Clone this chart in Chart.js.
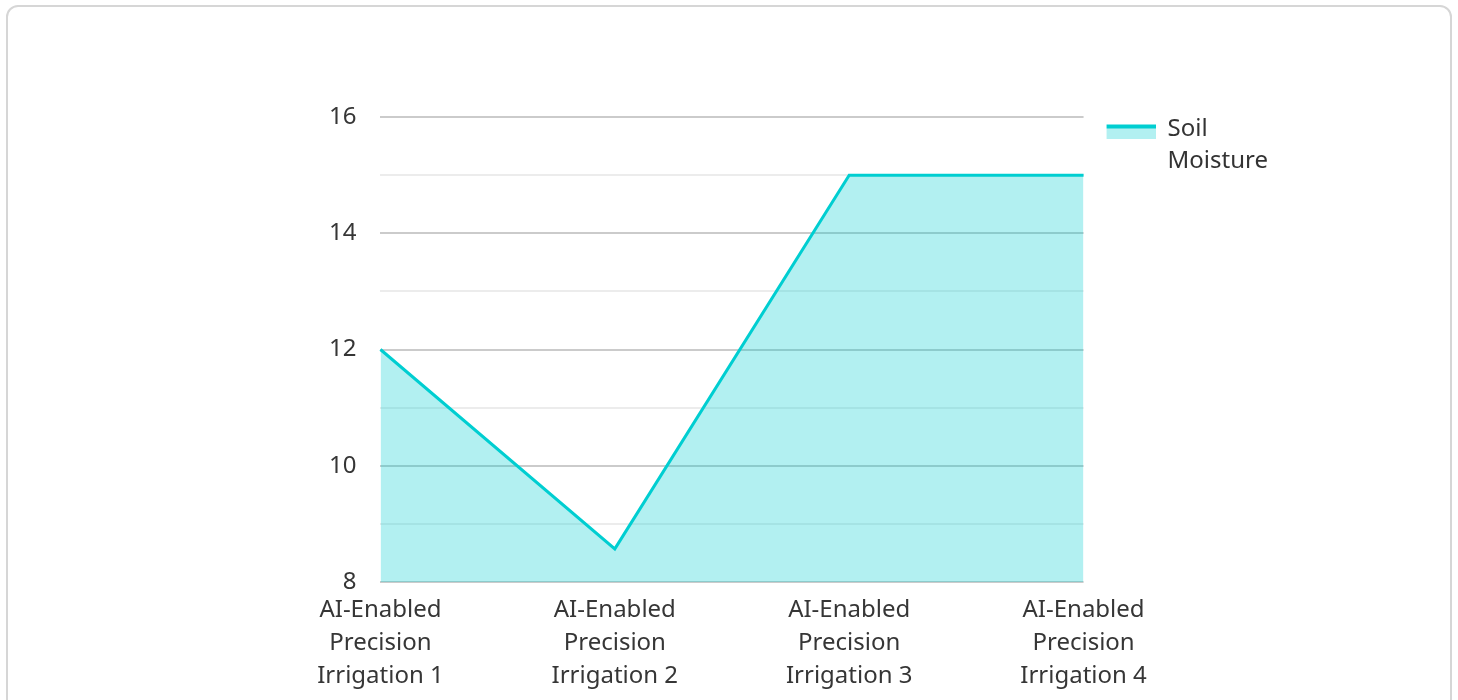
<!DOCTYPE html>
<html>
<head>
<meta charset="utf-8">
<script src="https://cdn.jsdelivr.net/npm/chart.js@4.4.0/dist/chart.umd.min.js"></script>
<style>
  html, body { margin: 0; padding: 0; background: #fff; overflow: hidden; }
  #card {
    position: absolute; left: 6px; top: 5px;
    width: 1446px; height: 760px;
    border: 2px solid #d6d6d6; border-radius: 12px;
    box-sizing: border-box; background: #fff;
  }
  #wrap { position: relative; width: 1442px; height: 720px; }
</style>
</head>
<body>
<div id="card"><div id="wrap"><canvas id="chart"></canvas></div></div>
<script>
// Datos del gráfico
const categories = [
  ['AI-Enabled', 'Precision', 'Irrigation 1'],
  ['AI-Enabled', 'Precision', 'Irrigation 2'],
  ['AI-Enabled', 'Precision', 'Irrigation 3'],
  ['AI-Enabled', 'Precision', 'Irrigation 4']
];
const soilMoisture = [12, 8.57, 15, 15];
const seriesLabel = ['Soil', 'Moisture'];
const yMin = 8;
const yMax = 16;

const lineColor = 'rgb(0, 206, 209)';
const fillColor = 'rgba(0, 206, 209, 0.3)';

// Icono de la leyenda: margen transparente a la izquierda y arriba,
// luego banda de relleno con línea superior.
function legendIcon() {
  const c = document.createElement('canvas');
  c.width = 72;
  c.height = 19;
  const g = c.getContext('2d');
  g.fillStyle = fillColor;
  g.fillRect(23, 5, 49, 14);
  g.fillStyle = lineColor;
  g.fillRect(23, 5, 49, 4);
  return c;
}

Chart.defaults.font.family = '"Noto Sans", "Open Sans", sans-serif';
Chart.defaults.font.size = 24;
Chart.defaults.color = '#363636';

const ctx = document.getElementById('chart').getContext('2d');
const chart = new Chart(ctx, {
  type: 'line',
  data: {
    labels: categories,
    datasets: [{
      label: seriesLabel,
      data: soilMoisture,
      borderColor: lineColor,
      backgroundColor: fillColor,
      borderWidth: 3,
      fill: 'start',
      tension: 0,
      pointRadius: 0,
      pointStyle: legendIcon()
    }]
  },
  options: {
    responsive: true,
    maintainAspectRatio: false,
    animation: false,
    layout: {
      padding: { left: 297, right: 172, top: 110, bottom: 22 }
    },
    plugins: {
      legend: {
        position: 'right',
        align: 'start',
        labels: {
          usePointStyle: true,
          pointStyleWidth: 72,
          padding: 0,
          font: { size: 24, lineHeight: 1.35 },
          color: '#333'
        }
      },
      tooltip: { enabled: true }
    },
    scales: {
      x: {
        grid: { display: false, drawTicks: false },
        border: { display: false },
        ticks: {
          padding: 12,
          maxRotation: 0,
          font: { size: 24, lineHeight: 1.375 }
        }
      },
      y: {
        min: yMin,
        max: yMax,
        border: { display: false },
        grid: {
          drawTicks: false,
          lineWidth: 2,
          color: c => (c.tick && c.tick.value % 2 === 0) ? '#cbcbcb' : '#ececec'
        },
        ticks: {
          stepSize: 1,
          padding: 24,
          callback: v => (v % 2 === 0 ? v : '')
        }
      }
    }
  }
});
</script>
</body>
</html>
